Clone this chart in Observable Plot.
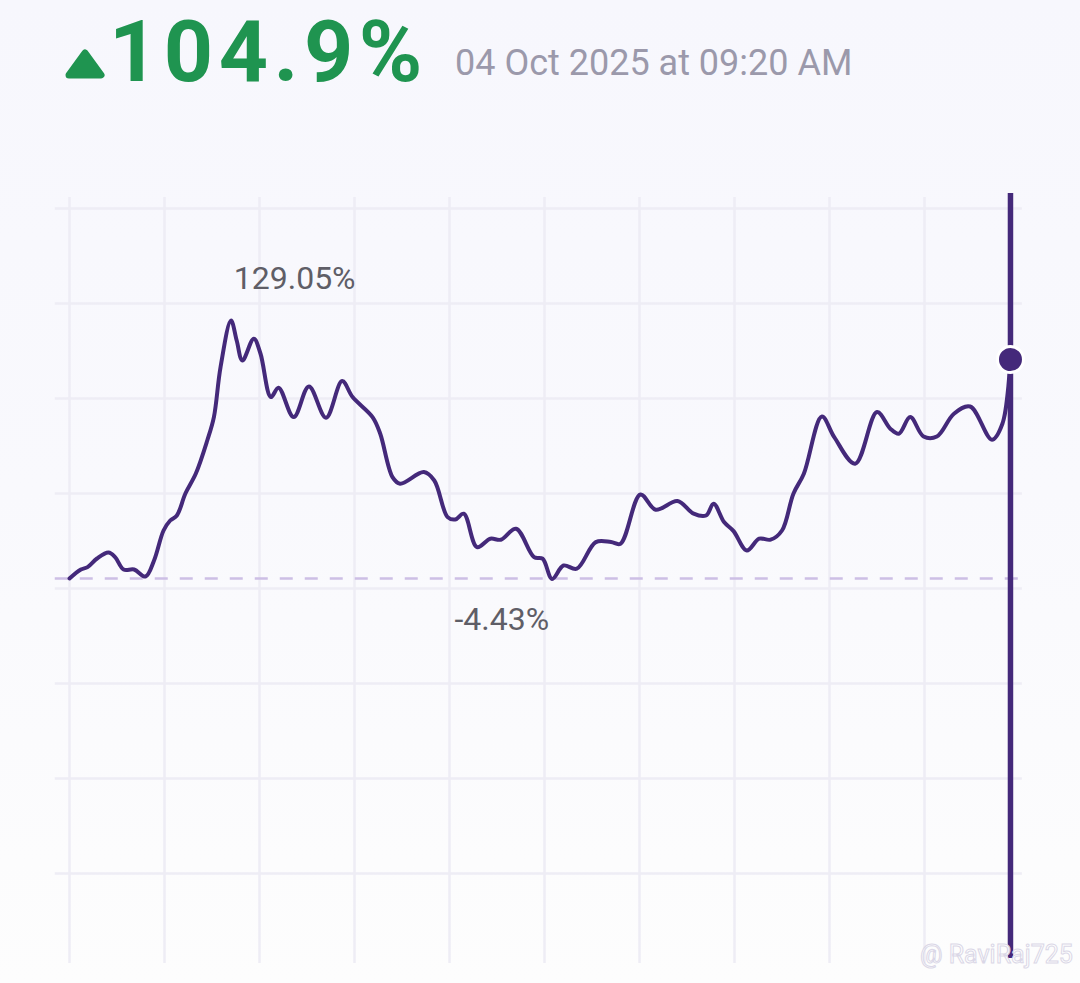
<!DOCTYPE html>
<html>
<head>
<meta charset="utf-8">
<script src="https://cdn.jsdelivr.net/npm/d3@7"></script>
<script src="https://cdn.jsdelivr.net/npm/@observablehq/plot@0.6"></script>
<style>
  html, body { margin: 0; padding: 0; }
  body { width: 1080px; height: 983px; overflow: hidden;
         background: linear-gradient(180deg, #f7f7fd 0%, #f9f9fd 50%, #fdfdfd 100%);
         font-family: Roboto, "Noto Sans", sans-serif; }
  #wrap { position: relative; width: 1080px; height: 983px; }
  #header { position: absolute; left: 0; top: 0; width: 1080px; height: 120px; }
  #tri { position: absolute; left: 64px; top: 47px; }
  #big { position: absolute; left: 109px; top: 1px; font-size: 86px; font-weight: 700;
         color: #1f9450; line-height: normal; letter-spacing: 5.5px; white-space: nowrap; }
  #date { position: absolute; left: 455px; top: 43px; font-size: 36px; color: #9b99ab;
          line-height: 40px; white-space: nowrap; }
  #chart { position: absolute; left: 0; top: 120px; }
  #chart svg { display: block; }
  #wm { position: absolute; left: 920px; top: 940px; font-size: 25px; color: #ffffff;
        -webkit-text-stroke: 1px #d9d6e6; white-space: nowrap; opacity: 0.95; }
</style>
</head>
<body>
<div id="wrap">
  <div id="header">
    <svg id="tri" width="42" height="34" viewBox="0 0 42 34">
      <path d="M21 6 L37 28 L5 28 Z" fill="#1f9450" stroke="#1f9450" stroke-width="7" stroke-linejoin="round"/>
    </svg>
    <div id="big">104.9%</div>
    <div id="date">04 Oct 2025 at 09:20 AM</div>
  </div>
  <div id="chart"></div>
  <div id="wm">@ RaviRaj725</div>
</div>
<script>
// ---- data ----
const steps = [0, 1.2, 1.9, 2.9, 4.1, 4.8, 5.7, 6.8, 8.0, 8.9, 9.9, 10.6, 11.3, 12.2, 13.3, 14.5, 15.2, 15.9,
  17.0, 17.6, 18.2, 19.4, 20.1, 21.2, 22.0, 23.6, 25.2, 27.0, 28.7, 29.8, 31.9, 32.7, 34.0, 34.8, 37.3, 38.4,
  39.8, 40.6, 41.5, 42.9, 44.3, 45.4, 47.0, 48.9, 49.8, 50.8, 52.0, 53.4, 55.4, 57.0, 58.0, 60.1, 61.7, 64.0,
  65.7, 67.0, 67.8, 68.9, 69.9, 71.3, 72.6, 73.8, 75.0, 76.2, 77.3, 79.2, 80.5, 82.7, 85.0, 86.4, 87.3, 88.5,
  89.9, 91.3, 93.1, 94.8, 97.1, 98.2, 99.05];
const pctChange = [0, 4.5, 5.7, 10, 13, 10.7, 4.5, 4.5, 1, 9, 24, 29, 31.5, 42.5, 52.5, 69, 80.7, 105.7,
  129, 119, 109, 119.9, 112.5, 90.7, 95.4, 80.7, 96, 80.4, 98.7, 90.7, 80.7, 72.5, 50.7, 47.4, 53.2, 49,
  30.7, 29.5, 32.4, 15.7, 19.9, 19.4, 24.9, 10.7, 9.9, -0.2, 6.5, 4.9, 18.2, 18.2, 17.4, 42, 34.4, 38.7,
  32.4, 31.5, 37.4, 28.2, 23.7, 14, 19.9, 19.4, 24, 42.4, 52.4, 81, 70.7, 57.4, 83.2, 74.9, 72.4, 80.7,
  71, 71, 82.4, 86, 69.4, 77.4, 109.5];
const gridSteps = [0, 10, 20, 30, 40, 50, 60, 70, 80, 90];
const gridPct = [185, 137.5, 90, 42.5, -5, -52.5, -100, -147.5];
const baselinePct = [0];
const annotationText = ["129.05%", "-4.43%"];
const annotationStep = [23.7, 45.5];
const annotationPct = [149.75, -20.5];

// ---- build tables ----
const series = steps.map((s, i) => ({step: s, pct: pctChange[i]}));
const last = series[series.length - 1];
const annotations = annotationText.map((t, i) => ({text: t, step: annotationStep[i], pct: annotationPct[i]}));

const purple = "#44297a";
const gridColor = "#eeedf5";

const chart = Plot.plot({
  width: 1080,
  height: 863,
  margin: 0,
  style: {background: "transparent", overflow: "visible"},
  x: {domain: [0, 100], range: [69, 1019], axis: null},
  y: {domain: [-200, 200], range: [858, 58], axis: null},
  marks: [
    Plot.ruleX(gridSteps, {y1: -192.5, y2: 190.5, stroke: gridColor, strokeWidth: 2.5}),
    Plot.ruleY(gridPct, {x1: -1.5, x2: 100.3, stroke: gridColor, strokeWidth: 2.5}),
    Plot.ruleY(baselinePct, {x1: -1.5, x2: 100.3, stroke: "#cdbfe5", strokeWidth: 2.5, strokeDasharray: "13,12"}),
    Plot.line(series, {x: "step", y: "pct", curve: "catmull-rom", stroke: purple, strokeWidth: 4,
      strokeLinejoin: "round", strokeLinecap: "round"}),
    Plot.ruleX([last], {x: "step", y1: -190, y2: 192.5, stroke: purple, strokeWidth: 5.5}),
    Plot.dot([last], {x: "step", y: "pct", r: 13, fill: purple, stroke: "#ffffff", strokeWidth: 3}),
    Plot.text(annotations, {x: "step", y: "pct", text: "text", fontSize: 32, fontFamily: "Roboto",
      fill: "#5f5e67", textAnchor: "middle", lineAnchor: "middle"})
  ]
});
document.getElementById("chart").appendChild(chart);
</script>
</body>
</html>
